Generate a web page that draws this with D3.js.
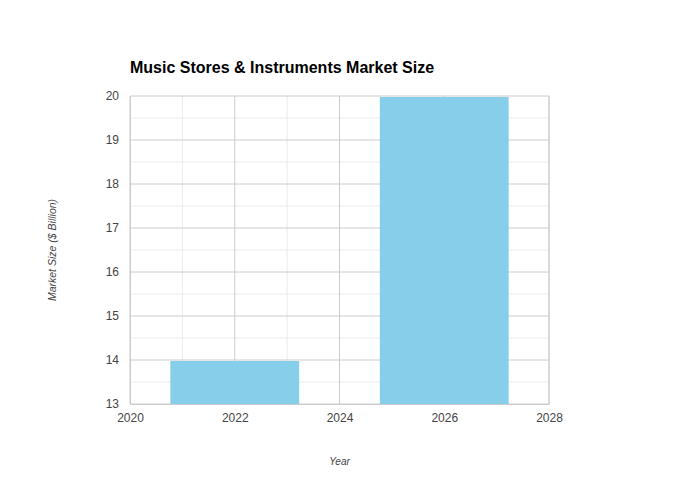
<!DOCTYPE html>
<html>
<head>
<meta charset="utf-8">
<script src="https://cdn.jsdelivr.net/npm/d3@7"></script>
<style>
  body { margin: 0; background: #fff; }
  text { font-family: "Liberation Sans", Arial, sans-serif; }
</style>
</head>
<body>
<div id="chart"></div>
<script>
const years = [2022, 2026];
const marketSize = [14, 20];
const xTicks = [2020, 2022, 2024, 2026, 2028];
const yTicks = [13, 14, 15, 16, 17, 18, 19, 20];

const width = 680, height = 500;
const margin = { top: 96, right: 131, bottom: 96, left: 130 };

const svg = d3.select('#chart').append('svg')
	.attr('width', width)
	.attr('height', height);

const x = d3.scaleLinear()
	.domain([2020, 2028])
	.range([margin.left, width - margin.right]);
const y = d3.scaleLinear()
	.domain([13, 20])
	.range([height - margin.bottom, margin.top]);

const barWidth = 2.46; // in years

// minor grid
const grid = svg.append('g');
grid.selectAll('.vminor').data(d3.range(2021, 2028, 2)).join('line')
	.attr('x1', d => x(d)).attr('x2', d => x(d))
	.attr('y1', y(13)).attr('y2', y(20))
	.attr('stroke', '#ebebeb');
grid.selectAll('.hminor').data(d3.range(13.5, 20, 1)).join('line')
	.attr('x1', x(2020)).attr('x2', x(2028))
	.attr('y1', d => y(d)).attr('y2', d => y(d))
	.attr('stroke', '#ebebeb');
// major grid
grid.selectAll('.vmajor').data(xTicks).join('line')
	.attr('x1', d => x(d)).attr('x2', d => x(d))
	.attr('y1', y(13)).attr('y2', y(20))
	.attr('stroke', '#cccccc');
grid.selectAll('.hmajor').data(yTicks).join('line')
	.attr('x1', x(2020)).attr('x2', x(2028))
	.attr('y1', d => y(d)).attr('y2', d => y(d))
	.attr('stroke', '#cccccc');

// bars
svg.append('g').selectAll('rect').data(years).join('rect')
	.attr('x', d => x(d - barWidth / 2))
	.attr('width', x(2020 + barWidth) - x(2020))
	.attr('y', (d, i) => y(marketSize[i]) + 1)
	.attr('height', (d, i) => y(13) - y(marketSize[i]) - 1)
	.attr('fill', '#87ceeb');

// axes
const xAxis = svg.append('g')
	.attr('transform', `translate(0,${y(13)})`)
	.call(d3.axisBottom(x).tickValues(xTicks).tickFormat(d3.format('d')).tickSize(0).tickPadding(9));
xAxis.select('.domain').attr('stroke', '#cccccc');
xAxis.selectAll('text').attr('font-size', 12).attr('fill', '#444');

const yAxis = svg.append('g')
	.attr('transform', `translate(${x(2020)},0)`)
	.call(d3.axisLeft(y).tickValues(yTicks).tickFormat(d3.format('d')).tickSize(0).tickPadding(11));
yAxis.select('.domain').attr('stroke', '#cccccc');
yAxis.selectAll('text').attr('font-size', 12).attr('fill', '#444');

// right border
svg.append('line')
	.attr('x1', x(2028)).attr('x2', x(2028))
	.attr('y1', y(13)).attr('y2', y(20))
	.attr('stroke', '#cccccc');

// title
svg.append('text')
	.attr('x', 130).attr('y', 73)
	.attr('font-size', 16).attr('font-weight', 'bold').attr('fill', '#000')
	.text('Music Stores & Instruments Market Size');

// axis titles
svg.append('text')
	.attr('x', (x(2020) + x(2028)) / 2).attr('y', 465)
	.attr('text-anchor', 'middle')
	.attr('font-size', 10).attr('font-style', 'italic').attr('fill', '#444')
	.text('Year');
svg.append('text')
	.attr('transform', `translate(56,${(y(13) + y(20)) / 2}) rotate(-90)`)
	.attr('text-anchor', 'middle')
	.attr('font-size', 10.5).attr('font-style', 'italic').attr('fill', '#444')
	.text('Market Size ($ Billion)');
</script>
</body>
</html>
